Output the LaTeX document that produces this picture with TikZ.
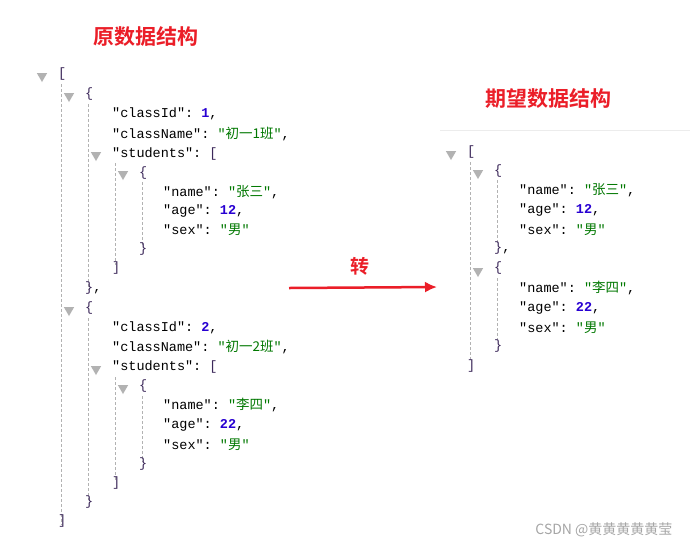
\documentclass[tikz,border=0pt]{standalone}
\usepackage{fontspec}
\setmonofont{Liberation Mono}
\newfontfamily\cjk{Noto Sans CJK SC}
\newfontfamily\cjkb{Noto Sans CJK SC Bold}
\usetikzlibrary{shapes.geometric,arrows.meta}
\definecolor{numc}{RGB}{40,0,210}
\definecolor{strc}{RGB}{0,120,0}
\definecolor{brc}{RGB}{60,40,90}
\definecolor{titc}{RGB}{235,30,40}
\newcommand{\K}[1]{"#1":~}
\newcommand{\N}[1]{\textcolor{numc}{\bfseries #1}}
\newcommand{\Sx}[1]{\textcolor{strc}{"{\cjk #1}"}}
\newcommand{\B}[1]{\textcolor{brc}{#1}}
\begin{document}
\begin{tikzpicture}[x=1pt,y=-1pt,
  code/.style={anchor=west,inner sep=0pt,font=\ttfamily\fontsize{13.5}{15}\selectfont},
  tri/.style={regular polygon,regular polygon sides=3,shape border rotate=180,fill=gray!60,inner sep=0pt,minimum size=12pt},
  guide/.style={gray!60,line width=0.6pt,dash pattern=on 3pt off 2pt},
  title/.style={text=titc,font=\cjkb\fontsize{21}{24}\selectfont}]
\useasboundingbox (0,0) rectangle (690,550);
\fill[white] (0,0) rectangle (690,550);
\node[title] (t1) at (146,37) {原数据结构};
\node[title] (t2) at (548,99) {期望数据结构};
\coordinate (hl1) at (440,130); \coordinate (hl2) at (690,130);
\draw[gray!15,line width=0.8pt] (hl1) -- (hl2);
% left triangles
\node[tri] (a1) at (42,76) {};
\node[tri] (a2) at (69,96) {};
\node[tri] (a3) at (96,155) {};
\node[tri] (a4) at (123,174) {};
\node[tri] (a5) at (69,310) {};
\node[tri] (a6) at (96,369) {};
\node[tri] (a7) at (123,388) {};
% left guides
\draw[guide] (61,84) -- (61,525);
\draw[guide] (88,104) -- (88,290);
\draw[guide] (88,318) -- (88,500);
\draw[guide] (115,163) -- (115,265);
\draw[guide] (115,377) -- (115,480);
\draw[guide] (142,182) -- (142,247);
\draw[guide] (142,396) -- (142,462);
% left code
\node[code] (l1) at (58,74) {\B{[}};
\node[code] (l2) at (85,94) {\B{\{}};
\node[code] (l3) at (112,114) {\K{classId}\N{1},};
\node[code] (l4) at (112,134) {\K{className}\Sx{初一1班},};
\node[code] (l5) at (112,154) {\K{students}\B{[}};
\node[code] (l6) at (139,173) {\B{\{}};
\node[code] (l7) at (163,192) {\K{name}\Sx{张三},};
\node[code] (l8) at (163,211) {\K{age}\N{12},};
\node[code] (l9) at (163,230) {\K{sex}\Sx{男}};
\node[code] (l10) at (139,249) {\B{\}}};
\node[code] (l11) at (112,268) {\B{]}};
\node[code] (l12) at (85,288) {\B{\}},};
\node[code] (l13) at (85,308) {\B{\{}};
\node[code] (l14) at (112,328) {\K{classId}\N{2},};
\node[code] (l15) at (112,347) {\K{className}\Sx{初一2班},};
\node[code] (l16) at (112,367) {\K{students}\B{[}};
\node[code] (l17) at (139,386) {\B{\{}};
\node[code] (l18) at (163,405) {\K{name}\Sx{李四},};
\node[code] (l19) at (163,425) {\K{age}\N{22},};
\node[code] (l20) at (163,445) {\K{sex}\Sx{男}};
\node[code] (l21) at (139,464) {\B{\}}};
\node[code] (l22) at (112,483) {\B{]}};
\node[code] (l23) at (85,502) {\B{\}}};
\node[code] (l24) at (58,521) {\B{]}};
% right
\node[tri] (b1) at (451,154) {};
\node[tri] (b2) at (478,173) {};
\node[tri] (b3) at (478,271) {};
\draw[guide] (470,162) -- (470,360);
\draw[guide] (497,180) -- (497,243);
\draw[guide] (497,278) -- (497,340);
\node[code] (r1) at (467,152) {\B{[}};
\node[code] (r2) at (494,171) {\B{\{}};
\node[code] (r3) at (519,190) {\K{name}\Sx{张三},};
\node[code] (r4) at (519,210) {\K{age}\N{12},};
\node[code] (r5) at (519,230) {\K{sex}\Sx{男}};
\node[code] (r6) at (494,248) {\B{\}},};
\node[code] (r7) at (494,268) {\B{\{}};
\node[code] (r8) at (519,288) {\K{name}\Sx{李四},};
\node[code] (r9) at (519,308) {\K{age}\N{22},};
\node[code] (r10) at (519,328) {\K{sex}\Sx{男}};
\node[code] (r11) at (494,346) {\B{\}}};
\node[code] (r12) at (467,366) {\B{]}};
% arrow
\coordinate (p1) at (289,288); \coordinate (p2) at (437,287);
\draw[titc,line width=2.5pt,-{Latex[length=12pt,width=11pt]}] (p1) -- (p2);
\node[text=titc,font=\cjkb\fontsize{19}{22}\selectfont] (zh) at (360,266) {转};
\node[text=gray!70,font=\cjk\fontsize{14}{16}\selectfont,anchor=east] (wm) at (676,530) {CSDN @黄黄黄黄黄莹};
\end{tikzpicture}
\end{document}
